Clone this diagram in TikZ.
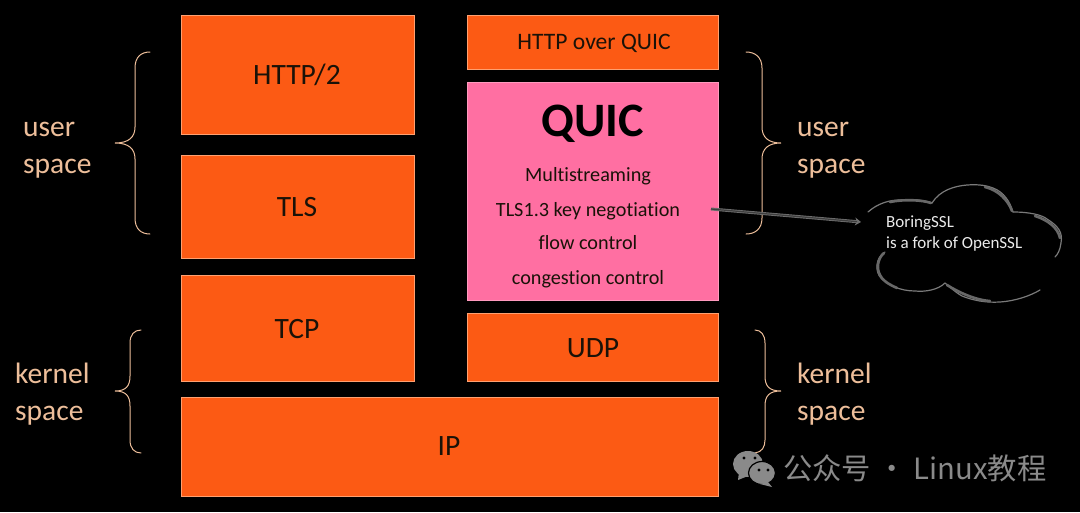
\documentclass[tikz,border=0pt]{standalone}
\usepackage{fontspec}
\setmainfont[Ligatures=NoCommon]{Carlito}
\newfontfamily\cjkfont{Noto Sans CJK SC}
\usetikzlibrary{arrows.meta}
\definecolor{orangebox}{HTML}{FC5A14}
\definecolor{orangeedge}{HTML}{FFA070}
\definecolor{pinkbox}{HTML}{FF6FA2}
\definecolor{peach}{HTML}{EDBE9A}
\definecolor{inkdark}{HTML}{1A1208}
\definecolor{cloudgray}{HTML}{7A7A7A}
\definecolor{markgray}{HTML}{8A8A8A}
\newcommand{\fsz}[1]{\fontsize{#1}{#1}\selectfont}
\tikzset{
  x=1pt,y=-1pt,
  orangerect/.style={draw=orangeedge,line width=0.5pt,fill=orangebox},
  pinkrect/.style={draw=pinkbox!70!white,line width=0.5pt,fill=pinkbox},
  boxtext/.style={inner sep=0pt,anchor=mid,text=inkdark},
  sidetext/.style={inner sep=0pt,anchor=base west,text=peach,font=\fsz{29.5}},
  bracepath/.style={draw=peach,line width=1pt,line cap=round},
  cloudline/.style={draw=cloudgray,line width=1.2pt,line cap=round},
  cloudheavy/.style={draw=cloudgray!85!black,line width=2.6pt,line cap=round},
}
\begin{document}
\begin{tikzpicture}
\useasboundingbox (0,0) rectangle (1080,512);
\fill[black] (0,0) rectangle (1080,512);
% boxes
\draw[orangerect] (181,15) rectangle (414,134);
\draw[orangerect] (181,155) rectangle (414,258);
\draw[orangerect] (181,275) rectangle (414,381);
\draw[orangerect] (181,397) rectangle (718,496);
\draw[orangerect] (467,15) rectangle (718,69);
\draw[pinkrect] (467,82) rectangle (718,300);
\draw[orangerect] (467,313) rectangle (718,381);
% box labels
\node[boxtext,font=\fsz{29.5}] (http2) at (297,82.5) {HTTP/2};
\node[boxtext,font=\fsz{29.5}] (tls) at (297,214) {TLS};
\node[boxtext,font=\fsz{29.5}] (tcp) at (297,336.5) {TCP};
\node[boxtext,font=\fsz{29.5}] (ip) at (449,453.5) {IP};
\node[boxtext,font=\fsz{23.6}] (hoq) at (594,47.5) {HTTP over QUIC};
\node[boxtext,font=\fsz{29.5}] (udp) at (593,355.5) {UDP};
\node[boxtext,font=\fsz{48}\bfseries,text=black] (quic) at (592.5,134) {QUIC};
\node[boxtext,font=\fsz{20.2}] (q1) at (588,179) {Multistreaming};
\node[boxtext,font=\fsz{20.2}] (q2) at (588,214) {TLS1.3 key negotiation};
\node[boxtext,font=\fsz{20.2}] (q3) at (588,247) {flow control};
\node[boxtext,font=\fsz{20.2}] (q4) at (588,282) {congestion control};
% side labels
\node[sidetext] (lu) at (23,136) {user};
\node[sidetext] (ls) at (23,173) {space};
\node[sidetext] (lk) at (15,383) {kernel};
\node[sidetext] (lks) at (15,420) {space};
\node[sidetext] (ru) at (797,136) {user};
\node[sidetext] (rs) at (797,173) {space};
\node[sidetext] (rk) at (797,383) {kernel};
\node[sidetext] (rks) at (797,420) {space};
% braces
\draw[bracepath] (150,52) .. controls (141,52) and (135,57) .. (135,68) -- (135,127)
  .. controls (135,137) and (129,143) .. (115,143)
  .. controls (129,143) and (135,149) .. (135,159) -- (135,218)
  .. controls (135,229) and (141,234) .. (150,234);
\draw[bracepath] (141,330) .. controls (134,330) and (130,335) .. (130,343) -- (130,376)
  .. controls (130,386) and (126,391) .. (115,391)
  .. controls (126,391) and (130,396) .. (130,406) -- (130,440)
  .. controls (130,448) and (134,453) .. (141,453);
\draw[bracepath] (746,52) .. controls (755,52) and (762,57) .. (762,68) -- (762,127)
  .. controls (762,137) and (768,143) .. (781,143)
  .. controls (768,143) and (762,149) .. (762,159) -- (762,218)
  .. controls (762,229) and (755,234) .. (746,234);
\draw[bracepath] (755,330) .. controls (761,330) and (765,335) .. (765,343) -- (765,376)
  .. controls (765,386) and (769,391) .. (781,391)
  .. controls (769,391) and (765,396) .. (765,406) -- (765,440)
  .. controls (765,447) and (762,452) .. (755,453);
% cloud
\draw[cloudline] (868,212) .. controls (878,203) and (890,200) .. (900,200)
  .. controls (912,199) and (925,200) .. (932,203);
\draw[cloudheavy] (890,202) .. controls (905,199) and (922,200) .. (931,203);
\draw[cloudline] (932,203) .. controls (940,190) and (955,186) .. (967,185)
  .. controls (980,184) and (988,186) .. (993,188)
  .. controls (1004,192) and (1010,202) .. (1013,212);
\draw[cloudheavy] (985,187) .. controls (998,190) and (1008,200) .. (1012,211);
\draw[cloudline] (1013,212) .. controls (1030,212) and (1042,215) .. (1047,219)
  .. controls (1058,226) and (1063,232) .. (1061,243)
  .. controls (1060,250) and (1058,254) .. (1055,257);
\draw[cloudheavy] (1035,216) .. controls (1048,220) and (1058,228) .. (1060,238);
\draw[cloudline] (1040,290) .. controls (1030,296) and (1015,301) .. (1000,302)
  .. controls (985,303) and (972,300) .. (962,296)
  .. controls (955,292) and (950,287) .. (945,283);
\draw[cloudheavy] (990,301) .. controls (975,300) and (958,292) .. (947,285);
\draw[cloudline] (945,283) .. controls (938,290) and (925,292) .. (915,291)
  .. controls (900,291) and (888,285) .. (881,278)
  .. controls (875,272) and (875,258) .. (885,252);
\draw[cloudheavy] (897,288) .. controls (888,284) and (882,280) .. (880,275)
  .. controls (876,268) and (878,258) .. (884,253);
\node[inner sep=0pt,anchor=base west,text=white!92!black,font=\fsz{17}] (cl1) at (886,227) {BoringSSL};
\node[inner sep=0pt,anchor=base west,text=white!92!black,font=\fsz{17}] (cl2) at (886,248) {is a fork of OpenSSL};
% arrow
\coordinate (astart) at (711,209);
\coordinate (aend) at (861,222);
\draw[draw=markgray!80!black,line width=3pt,-{Stealth[length=6pt,width=8pt]}] (astart) -- (aend);
\draw[draw=markgray!45!black,line width=1.2pt,shorten >=4pt] (astart) -- (aend);
% watermark
\fill[markgray] (748,464) ellipse (15 and 13);
\fill[markgray] (739,472) -- (738,480) -- (748,476) -- cycle;
\draw[black,line width=1.2pt,fill=markgray] (762,473) ellipse (13.5 and 11.5);
\fill[markgray] (768,482) -- (772,487) -- (760,484) -- cycle;
\fill[black] (744,458) circle (1.7) (755,458) circle (1.7) (759,470) circle (1.7) (768,470) circle (1.7);
\node[inner sep=0pt,anchor=base west,text=markgray,font=\cjkfont\fsz{29.3}] (mark) at (783,479) {公众号 · Linux教程};
\end{tikzpicture}
\end{document}
